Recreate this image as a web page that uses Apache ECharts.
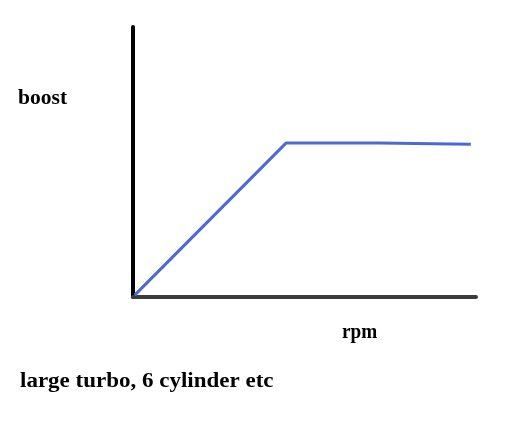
<!DOCTYPE html>
<html><head><meta charset="utf-8">
<script src="https://cdn.jsdelivr.net/npm/echarts@6/dist/echarts.min.js"></script>
<style>html,body{margin:0;padding:0;background:#fff}#c{width:505px;height:421px}</style>
</head><body><div id="c"></div>
<script>
const rpmValues = [0.5, 44.6, 71.7, 98.5];
const boostValues = [0.7, 57, 57, 56.6];
const yLabel = 'boost';
const xLabel = 'rpm';
const caption = 'large turbo, 6 cylinder etc';

const chart = echarts.init(document.getElementById('c'));
const font = 'bold 20px "Liberation Serif", "Times New Roman", serif';
chart.setOption({
  animation: false,
  backgroundColor: '#fff',
  grid: {left: 133, right: 29, top: 27, bottom: 124},
  xAxis: {type: 'value', min: 0, max: 100,
    axisLine: {show: true, onZero: false, lineStyle: {color: '#3c3c3c', width: 4}},
    axisTick: {show: false}, axisLabel: {show: false}, splitLine: {show: false}},
  yAxis: {type: 'value', min: 0, max: 100,
    axisLine: {show: true, onZero: false, lineStyle: {color: '#000', width: 4}},
    axisTick: {show: false}, axisLabel: {show: false}, splitLine: {show: false}},
  series: [{type: 'line', data: rpmValues.map((x, i) => [x, boostValues[i]]),
    symbol: 'none', lineStyle: {color: '#4d69d2', width: 3}}],
  graphic: [
    {type: 'text', x: 18, y: 89, scaleX: 1.08, style: {text: yLabel, font: font, fill: '#000'}},
    {type: 'text', x: 342, y: 323, scaleX: 0.96, style: {text: xLabel, font: font, fill: '#000'}},
    {type: 'text', x: 20, y: 372, scaleX: 1.15, style: {text: caption, font: font, fill: '#000'}}
  ]
});
</script></body></html>
